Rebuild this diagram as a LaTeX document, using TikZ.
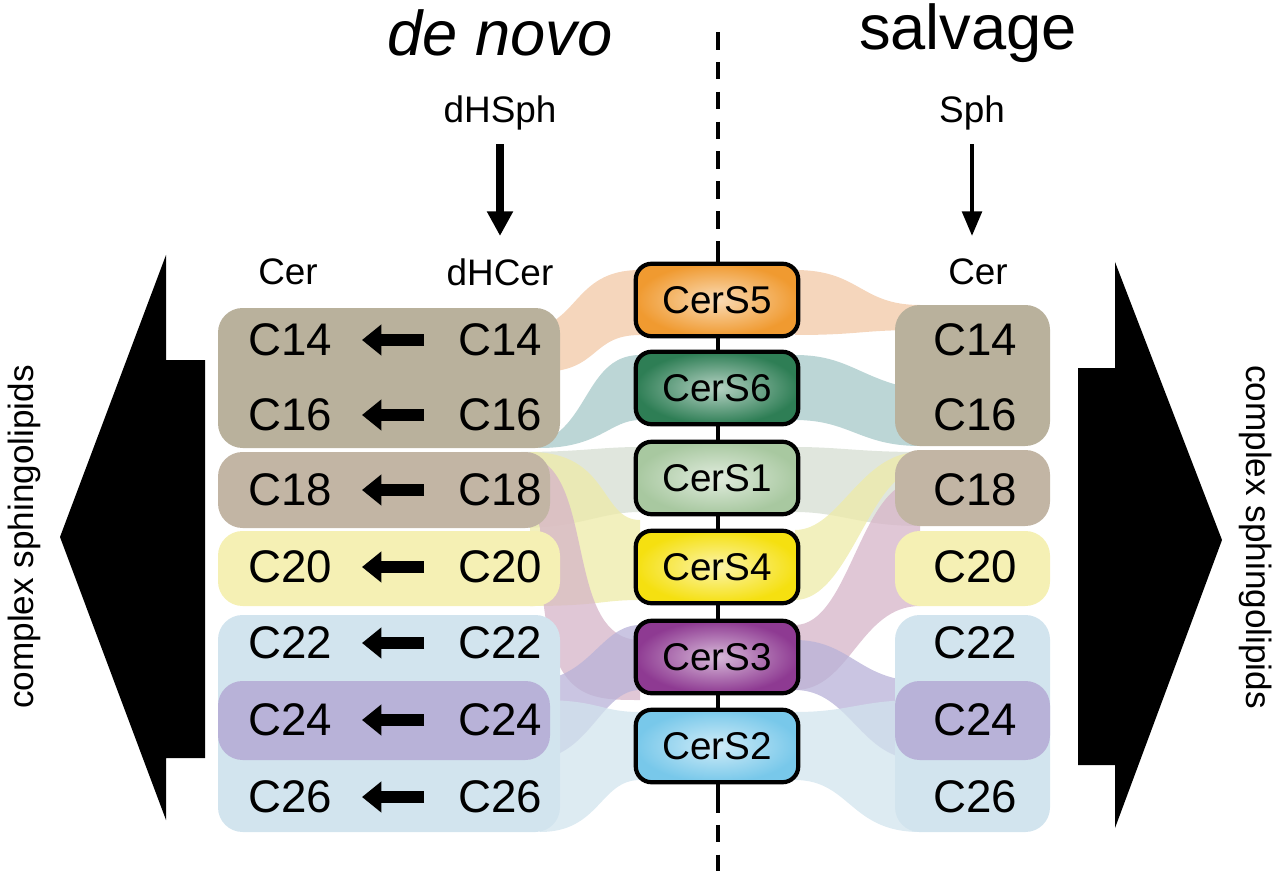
\documentclass[tikz,border=0pt]{standalone}
\usepackage{fontspec}
\setmainfont{Liberation Sans}
\usetikzlibrary{arrows.meta}
\definecolor{bandbrown}{HTML}{B9B19C}
\definecolor{bandbrown2}{HTML}{C2B5A4}
\definecolor{bandyellow}{HTML}{F5F0B4}
\definecolor{bandblue}{HTML}{D2E4EE}
\definecolor{bandpurple}{HTML}{B8B2D8}
\definecolor{rorange}{HTML}{F2C8A6}
\definecolor{rteal}{HTML}{A6C8C8}
\definecolor{rgreen}{HTML}{D6DED2}
\definecolor{rpink}{HTML}{D6B4C8}
\definecolor{ryellow}{HTML}{EEEBA8}
\definecolor{e5}{HTML}{F09A30}
\definecolor{e6}{HTML}{2E7E55}
\definecolor{e1}{HTML}{A8C8A0}
\definecolor{e4}{HTML}{F5E010}
\definecolor{e3}{HTML}{8E3A92}
\definecolor{e2}{HTML}{78C8EA}
\begin{document}
\begin{tikzpicture}[x=0.02cm,y=-0.02cm,
  lab/.style={font=\fontsize{26}{26}\selectfont},
  hdr/.style={font=\fontsize{21}{21}\selectfont},
  enz/.style={draw=black,line width=2.4pt,rounded corners=9pt,minimum width=3.25cm,minimum height=1.45cm,font=\fontsize{22}{22}\selectfont,inner color=#1!35!white,outer color=#1},
  band/.style={fill=#1,rounded corners=14pt},
  rib/.style={fill=#1,opacity=0.75},
  bigarrow/.style={fill=black},
  small/.style={-{Triangle[length=11pt,width=17pt]},line width=7pt}]
\useasboundingbox (0,0) rectangle (1280,871);
% headings
\node[font=\fontsize{36}{36}\selectfont\itshape] (dn) at (500,33) {de novo};
\node[font=\fontsize{36}{36}\selectfont] (sv) at (968,33) {salvage};
\node[hdr] (dhsph) at (500,113) {dHSph};
\node[hdr] (sph) at (972,113) {Sph};
\node[hdr] (cerL) at (288,272) {Cer};
\node[hdr] (dhcer) at (500,272) {dHCer};
\node[hdr] (cerR) at (978,272) {Cer};
\draw[-{Triangle[length=14pt,width=14pt]},line width=4pt] (dhsph.south) ++(0,8) coordinate (a1) -- (500,236) coordinate (a2);
\draw[-{Triangle[length=14pt,width=11pt]},line width=2.5pt] (sph.south) ++(0,8) coordinate (b1) -- (972,236) coordinate (b2);
% ribbons left
\fill[rib=rorange] (520,330) .. controls (580,330) and (570,270) .. (640,270) -- (640,335) .. controls (590,335) and (600,372) .. (540,372) -- cycle;
\fill[rib=rteal] (520,445) .. controls (590,445) and (580,355) .. (640,355) -- (640,420) .. controls (610,420) and (600,448) .. (540,448) -- cycle;
\fill[rib=rgreen] (520,452) .. controls (580,452) and (600,447) .. (640,447) -- (640,512) .. controls (600,512) and (580,528) .. (520,528) -- cycle;
\fill[rib=ryellow] (530,452) .. controls (610,452) and (600,520) .. (640,520) -- (640,600) .. controls (600,600) and (600,606) .. (530,606) -- cycle;
\fill[rib=rpink] (520,455) .. controls (600,455) and (560,640) .. (640,640) -- (640,700) .. controls (580,700) and (540,700) .. (540,528) -- cycle;
\fill[rib=bandpurple] (530,681) .. controls (590,681) and (600,625) .. (640,625) -- (640,690) .. controls (600,690) and (590,760) .. (530,760) -- cycle;
\fill[rib=bandblue] (540,700) .. controls (600,700) and (600,712) .. (640,712) -- (640,780) .. controls (600,780) and (600,832) .. (540,832) -- cycle;
% ribbons right
\fill[rib=rorange] (795,270) .. controls (860,270) and (860,305) .. (920,305) -- (920,330) .. controls (860,330) and (860,335) .. (795,335) -- cycle;
\fill[rib=rteal] (795,355) .. controls (850,355) and (860,380) .. (920,390) -- (920,446) .. controls (860,446) and (850,420) .. (795,420) -- cycle;
\fill[rib=rgreen] (795,447) .. controls (840,447) and (860,452) .. (920,452) -- (920,526) .. controls (860,526) and (840,512) .. (795,512) -- cycle;
\fill[rib=ryellow] (795,530) .. controls (840,530) and (860,452) .. (920,452) -- (920,470) .. controls (870,470) and (850,600) .. (795,600) -- cycle;
\fill[rib=rpink] (795,625) .. controls (850,625) and (860,480) .. (920,480) -- (920,606) .. controls (860,606) and (850,690) .. (795,690) -- cycle;
\fill[rib=bandpurple] (795,640) .. controls (850,640) and (860,681) .. (920,681) -- (920,760) .. controls (860,760) and (850,690) .. (795,690) -- cycle;
\fill[rib=bandblue] (795,712) .. controls (850,712) and (860,700) .. (920,700) -- (920,832) .. controls (850,832) and (850,780) .. (795,780) -- cycle;
% bands left
\fill[band=bandbrown] (218,308) rectangle (560,448);
\fill[band=bandbrown2] (218,452) rectangle (550,528);
\fill[band=bandyellow] (218,531) rectangle (560,606);
\fill[band=bandblue] (218,615) rectangle (560,832);
\fill[band=bandpurple] (218,681) rectangle (550,760);
% bands right
\fill[band=bandbrown] (895,305) rectangle (1050,446);
\fill[band=bandbrown2] (895,450) rectangle (1050,526);
\fill[band=bandyellow] (895,531) rectangle (1050,606);
\fill[band=bandblue] (895,615) rectangle (1050,832);
\fill[band=bandpurple] (895,681) rectangle (1050,760);
% column labels
\foreach \y/\t in {340/14,415/16,490/18,567/20,643/22,720/24,797/26}{
  \node[lab] (l\t) at (290,\y) {C\t};
  \node[lab] (m\t) at (500,\y) {C\t};
  \node[lab] (r\t) at (975,\y) {C\t};
  \draw[small] (424,\y) -- (362,\y);
}
% center line
\draw[line width=2.2pt,dash pattern=on 10pt off 7pt] (718,32) -- (718,255);
\draw[line width=2.2pt,dash pattern=on 10pt off 7pt] (718,795) -- (718,871);
\draw[line width=2.2pt] (718,255) -- (718,795);
% enzymes
\node[enz=e5] (s5) at (717,300) {CerS5};
\node[enz=e6] (s6) at (717,388) {CerS6};
\node[enz=e1] (s1) at (717,478) {CerS1};
\node[enz=e4] (s4) at (717,567) {CerS4};
\node[enz=e3] (s3) at (717,657) {CerS3};
\node[enz=e2] (s2) at (717,746) {CerS2};
% big arrows
\fill[bigarrow] (60,537) -- (166,255) -- (166,360) -- (205,360) -- (205,758) -- (166,758) -- (166,820) -- cycle;
\fill[bigarrow] (1222,540) -- (1115,262) -- (1115,368) -- (1078,368) -- (1078,765) -- (1115,765) -- (1115,828) -- cycle;
\node[font=\fontsize{20}{20}\selectfont,rotate=90] (csl) at (24,537) {complex sphingolipids};
\node[font=\fontsize{20}{20}\selectfont,rotate=-90] (csr) at (1256,537) {complex sphingolipids};
\end{tikzpicture}
\end{document}
